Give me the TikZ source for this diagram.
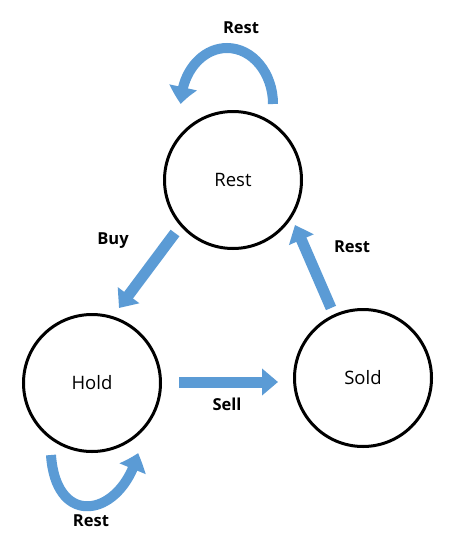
\documentclass[tikz,border=0pt]{standalone}
\usepackage{fontspec}
\setmainfont{Open Sans}
\usetikzlibrary{arrows.meta,bending}
\definecolor{blk}{HTML}{5B9BD5}
\tikzset{
  state/.style={circle,draw=black,line width=3pt,minimum size=137pt,inner sep=0pt,font=\fontsize{18.5}{20}\selectfont},
  lbl/.style={font=\bfseries\fontsize{16.5}{18}\selectfont},
  blockarrow/.style={draw=blk,line width=11pt,-{Triangle[width=26pt,length=16pt]}},
  curvearrow/.style={draw=blk,line width=10pt,-{Triangle[width=27pt,length=17pt,bend]}}
}
\begin{document}
\begin{tikzpicture}[x=1pt,y=-1pt]
\useasboundingbox (0,0) rectangle (468,535);
\node[state] (rest) at (233,180) {Rest};
\node[state] (hold) at (92,383) {Hold};
\node[state] (sold) at (363,378) {Sold};
% straight arrows
\coordinate (buyS) at (175,233);
\coordinate (buyE) at (119,308);
\coordinate (sellS) at (179,382);
\coordinate (sellE) at (278,382);
\coordinate (restS) at (331,308);
\coordinate (restE) at (295,225);
\draw[blockarrow] (buyS) -- (buyE);
\draw[blockarrow] (sellS) -- (sellE);
\draw[blockarrow] (restS) -- (restE);
% curved self loops
\coordinate (topS) at (273,104);
\draw[curvearrow] (topS) arc[start angle=0,end angle=-180,x radius=46,y radius=56];
\coordinate (botS) at (51,455);
\coordinate (botE) at (138,453);
\draw[curvearrow] (botS) .. controls (56,530) and (122,517) .. (botE);
% labels
\node[lbl] (l1) at (241,28) {Rest};
\node[lbl] (l2) at (113,241) {Buy};
\node[lbl] (l3) at (352,247) {Rest};
\node[lbl] (l4) at (227,404) {Sell};
\node[lbl] (l5) at (91,521) {Rest};
\end{tikzpicture}
\end{document}
